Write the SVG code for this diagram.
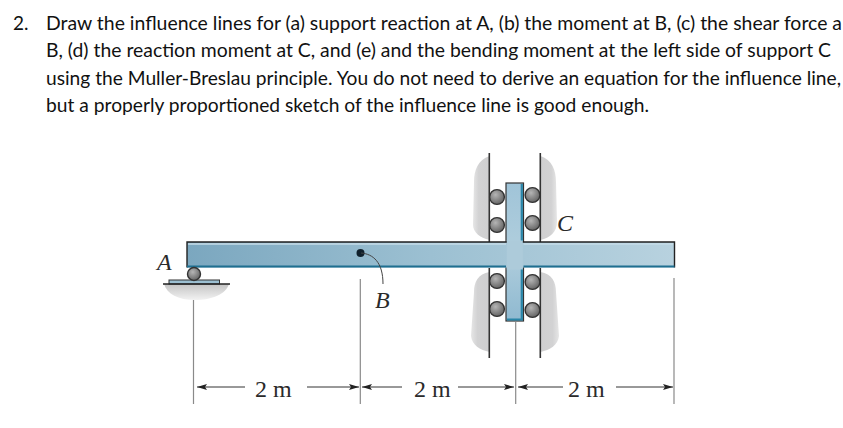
<svg xmlns="http://www.w3.org/2000/svg" width="843" height="428" viewBox="0 0 843 428">
<style>
.q{font-family:"Lato","Open Sans",sans-serif;font-size:19px;fill:#111}
.l{font-family:"Liberation Serif",serif;font-size:24px;fill:#2a2a2a}
.i{font-style:italic}
.dim{stroke:#8a8a8a;stroke-width:1.2;fill:none}
.arr{stroke:#333;stroke-width:1;fill:none;marker-end:url(#ah)}
.wall{stroke:#333;stroke-width:1.6;fill:none}
.ball{fill:url(#bg);stroke:#333;stroke-width:1.4}
.shl{fill:url(#sl)}
.shr{fill:url(#sr)}
</style>
<defs>
<linearGradient id="beamfill" x1="0" x2="1" y1="0" y2="0"><stop offset="0" stop-color="#7ba7bf"/><stop offset="0.5" stop-color="#9cc0d2"/><stop offset="1" stop-color="#b8d2df"/></linearGradient>
<linearGradient id="vb" x1="0" x2="0" y1="0" y2="1"><stop offset="0" stop-color="#a0c4d8"/><stop offset="0.5" stop-color="#b0cedd"/><stop offset="1" stop-color="#8fb9d0"/></linearGradient>
<radialGradient id="bg" cx="0.4" cy="0.35" r="0.7"><stop offset="0" stop-color="#b5b5b5"/><stop offset="1" stop-color="#5f5f5f"/></radialGradient>
<linearGradient id="sl" x1="0" x2="1" y1="0" y2="0"><stop offset="0" stop-color="#e6e6e6"/><stop offset="0.35" stop-color="#d2d2d3"/><stop offset="1" stop-color="#cfcfd0"/></linearGradient>
<linearGradient id="sr" x1="1" x2="0" y1="0" y2="0"><stop offset="0" stop-color="#e6e6e6"/><stop offset="0.35" stop-color="#d2d2d3"/><stop offset="1" stop-color="#cfcfd0"/></linearGradient>
<linearGradient id="sg" x1="0" x2="0" y1="0" y2="1"><stop offset="0" stop-color="#c4c4c4"/><stop offset="1" stop-color="#f2f2f2"/></linearGradient>
<marker id="ah" markerWidth="11" markerHeight="7" refX="10" refY="3" orient="auto" markerUnits="userSpaceOnUse"><path d="M0 0L10 3L0 6L2 3Z" fill="#222"/></marker>
</defs>
<g id="problem-text">
<text class="q" x="13" y="30">2.</text>
<text class="q" x="46" y="30" textLength="796" lengthAdjust="spacingAndGlyphs">Draw the influence lines for (a) support reaction at A, (b) the moment at B, (c) the shear force a</text>
<text class="q" x="46" y="57" textLength="785" lengthAdjust="spacingAndGlyphs">B, (d) the reaction moment at C, and (e) and the bending moment at the left side of support C</text>
<text class="q" x="46" y="85" textLength="795" lengthAdjust="spacingAndGlyphs">using the Muller-Breslau principle. You do not need to derive an equation for the influence line,</text>
<text class="q" x="46" y="112" textLength="603" lengthAdjust="spacingAndGlyphs">but a properly proportioned sketch of the influence line is good enough.</text>
</g>
<g id="roller-guide-C">
<path class="shl" d="M489.5 156C478 160 474 170 474 182L473 225C473 232 480 238 489.5 240Z"/>
<path class="shr" d="M540.5 156C552 160 556 170 556 182L557 222C557 232 550 238 540.5 240Z"/>
<path class="shl" d="M489.5 272C478 274 474 282 474 292L471 336C472 345 480 350 489.5 352Z"/>
<path class="shr" d="M540.5 272C552 274 556 282 556 292L559 336C558 345 550 350 540.5 352Z"/>
<path class="wall" d="M489.3 153V242M540.3 153V242M489.3 268V358M540.3 268V358"/>
<circle class="ball" cx="497" cy="197" r="7.4"/><circle class="ball" cx="497" cy="225" r="7.4"/>
<circle class="ball" cx="497" cy="281" r="7.4"/><circle class="ball" cx="497" cy="309" r="7.4"/>
<circle class="ball" cx="532.5" cy="195" r="7.4"/><circle class="ball" cx="532.5" cy="223" r="7.4"/>
<circle class="ball" cx="532.5" cy="282" r="7.4"/><circle class="ball" cx="532.5" cy="310" r="7.4"/>
<rect x="506" y="183" width="17.5" height="138" fill="url(#vb)" stroke="#333" stroke-width="1.2"/>
<path d="M521.8 184V242M521.8 268V319M507 319.5H523" stroke="#2a86a8" stroke-width="2.2" fill="none"/>
</g>
<g id="beam">
<rect x="187" y="242" width="487.5" height="25.5" fill="url(#beamfill)"/>
<path d="M187 267.5V242H674.5V267.5" stroke="#222" stroke-width="1.4" fill="none"/>
<path d="M188 244H506M523.5 244H673" stroke="#c5dce8" stroke-width="1.4" fill="none"/>
<path d="M187 266.5H506M523.5 266.5H674.5" stroke="#1f6f90" stroke-width="2.2" fill="none"/>
<rect x="506.8" y="240.5" width="16" height="29" fill="#adcbda"/>
</g>
<g id="support-A">
<path d="M164 284H229C226 294 212 300 195 300C178 300 167 294 164 284Z" fill="url(#sg)"/>
<rect x="169" y="280" width="50.5" height="4" fill="#9cc0d2" stroke="#333"/>
<path d="M163 284H230" stroke="#222" stroke-width="1.4"/>
<circle class="ball" cx="194" cy="274" r="6.5"/>
<text class="l i" x="157" y="270">A</text>
</g>
<g id="point-B">
<circle cx="360.5" cy="253" r="4" fill="#10202c"/>
<path d="M361 253C373 254 383 262 383 284" stroke="#444" stroke-width="1" fill="none"/>
<text class="l i" x="375" y="308">B</text>
</g>
<text id="label-C" class="l i" x="557" y="231">C</text>
<g id="connectors">
<path class="dim" d="M193.5 300V404M360.3 279V404M515.7 322V404M674 278V404"/>
<path class="arr" d="M245 387H197"/><path class="arr" d="M307 387H359"/>
<path class="arr" d="M402 387H362"/><path class="arr" d="M458 387H514"/>
<path class="arr" d="M563 387H518"/><path class="arr" d="M616 387H673"/>
</g>
<g id="dimensions">
<text class="l" x="255" y="397">2 m</text>
<text class="l" x="414" y="397">2 m</text>
<text class="l" x="568" y="397">2 m</text>
</g>
</svg>
